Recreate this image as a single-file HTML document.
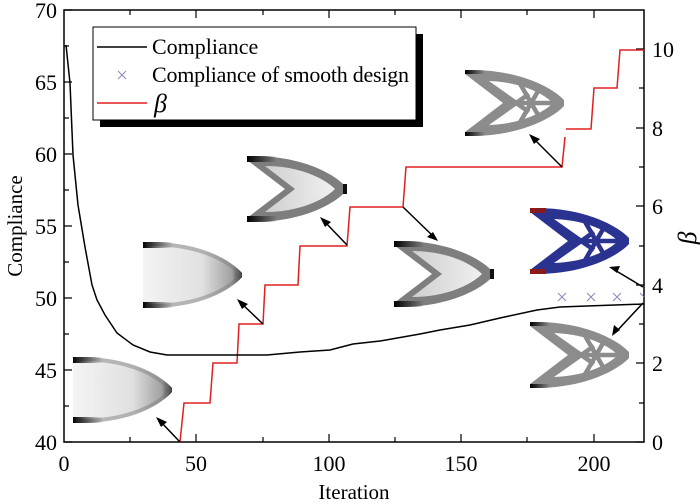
<!DOCTYPE html>
<html><head><meta charset="utf-8"><style>
html,body{margin:0;padding:0;background:#fff;}
svg{display:block;font-family:"Liberation Serif",serif;}
</style></head><body>
<svg width="700" height="503" viewBox="0 0 700 503" xmlns="http://www.w3.org/2000/svg">
<defs>
<linearGradient id="blur" x1="0" y1="0" x2="1" y2="0">
<stop offset="0" stop-color="#f4f4f4"/><stop offset="0.6" stop-color="#e0e0e0"/><stop offset="0.9" stop-color="#a0a0a0"/><stop offset="1" stop-color="#222"/>
</linearGradient>
<linearGradient id="vg" x1="0" y1="0" x2="1" y2="0">
<stop offset="0" stop-color="#cfcfcf"/><stop offset="1" stop-color="#f0f0f0"/>
</linearGradient>
<linearGradient id="dark" x1="0" y1="0" x2="1" y2="0">
<stop offset="0" stop-color="#000"/><stop offset="1" stop-color="#000" stop-opacity="0"/>
</linearGradient>
<g id="blob">
<path d="M0,0 L6,0 C55,0 88,18 99,31 L99,35 C88,48 55,66 6,66 L0,66 Z" fill="url(#blur)"/>
<path d="M6,2 C55,2 86,18 97,33 C86,48 55,64 6,64" fill="none" stroke="#777" stroke-width="4" stroke-opacity="0.45"/>
<rect x="0" y="0" width="30" height="6" fill="url(#dark)"/><rect x="0" y="60" width="30" height="6" fill="url(#dark)"/>
</g>
<g id="vee">
<path d="M0,0 L6,0 C55,0 88,18 99,31 L99,35 C88,48 55,66 6,66 L0,66 L0,62 L38,33 L0,4 Z" fill="#7e7e7e"/>
<path d="M18,10 C52,10 77,22 88,33 C77,44 52,56 18,56 L48,33 Z" fill="url(#vg)"/>
<rect x="0" y="0" width="30" height="6" fill="url(#dark)"/><rect x="0" y="60" width="30" height="6" fill="url(#dark)"/>
<rect x="96" y="28" width="4" height="10" fill="#111"/>
</g>
<g id="truss">
<path d="M0,0 L6,0 C55,0 88,18 99,30 L99,36 C88,48 55,66 6,66 L0,66 L0,62 L38,33 L0,4 Z" fill="currentColor"/>
<path d="M20,11 C52,11 77,22 88,33 C77,44 52,55 20,55 L50,33 Z" fill="#fff"/>
<g stroke="currentColor" stroke-width="4.5" fill="none">
<path d="M20,11 L64,42 M20,55 L64,24 M54,12 L76,50 M54,54 L76,16 M50,33 L88,33"/>
</g>
</g>
</defs>

<use href="#blob" x="73" y="357"/>
<use href="#blob" x="143" y="242"/>
<use href="#vee" x="247" y="156"/>
<use href="#vee" x="394" y="241"/>
<use href="#truss" x="465" y="70" style="color:#8c8c8c"/>
<rect x="465" y="70" width="20" height="4" fill="url(#dark)"/><rect x="465" y="132" width="20" height="4" fill="url(#dark)"/>
<use href="#truss" x="530" y="208" style="color:#2b3391"/>
<rect x="530" y="208" width="16" height="5" fill="#8b1a1a"/><rect x="530" y="269" width="16" height="5" fill="#8b1a1a"/>
<use href="#truss" x="530" y="322" style="color:#8c8c8c"/>
<rect x="530" y="322" width="20" height="4" fill="url(#dark)"/><rect x="530" y="384" width="20" height="4" fill="url(#dark)"/>

<g stroke="#000" stroke-width="1.5" fill="none">
<rect x="64" y="10" width="580" height="432"/>
</g>
<g stroke="#000" stroke-width="1.2">
<path d="M64,10h8M64,82h8M64,154h8M64,226h8M64,298h8M64,370h8M64,442h8"/>
<path d="M64,46h5M64,118h5M64,190h5M64,262h5M64,334h5M64,406h5"/>
<path d="M196,442v-8M329,442v-8M461,442v-8M594,442v-8M130,442v-5M263,442v-5M395,442v-5M527,442v-5"/>
<path d="M196,10v8M329,10v8M461,10v8M594,10v8M130,10v5M263,10v5M395,10v5M527,10v5"/>
<path d="M644,442h-8M644,363h-8M644,285h-8M644,206h-8M644,128h-8M644,49h-8"/>
<path d="M644,403h-5M644,324h-5M644,246h-5M644,167h-5M644,88h-5"/>
</g>
<g font-size="22" fill="#000">
<g text-anchor="end">
<text x="57" y="18">70</text><text x="57" y="90">65</text><text x="57" y="162">60</text><text x="57" y="234">55</text><text x="57" y="306">50</text><text x="57" y="378">45</text><text x="57" y="450">40</text>
</g>
<g text-anchor="middle">
<text x="64" y="471">0</text><text x="196" y="471">50</text><text x="329" y="471">100</text><text x="461" y="471">150</text><text x="594" y="471">200</text>
<text x="354" y="499" font-size="21">Iteration</text>
</g>
<g>
<text x="652" y="450">0</text><text x="652" y="371">2</text><text x="652" y="293">4</text><text x="652" y="214">6</text><text x="652" y="136">8</text><text x="652" y="57">10</text>
</g>
<text transform="translate(22,226) rotate(-90)" text-anchor="middle" font-size="21">Compliance</text>
<text transform="translate(696,238) rotate(-90)" text-anchor="middle" font-size="26" font-style="italic">β</text>
</g>

<polyline fill="none" stroke="#e02020" stroke-width="1.5" points="180,442 184,403 210,403 213,363 237,363 239,324 263,324 265,285 298,285 300,246 347,246 350,207 403,207 406,167 562,167 565,137"/>
<polyline fill="none" stroke="#e02020" stroke-width="1.5" points="566,129 591,129 594,88 617,88 620,50 644,50"/>

<path fill="none" stroke="#000" stroke-width="1.5" d="M66,45 L70,83 L73,155 L78,205 L85,247 L92,285 L97,300 L105,315 L117,333 L133,345 L150,352 L167,355 L267,355 L300,352 L330,350 L353,344 L380,341 L403,337 L420,334 L440,330 L470,325 L500,318 L537,310 L560,307 L587,306 L644,304"/>

<g stroke="#8888bb" stroke-width="1">
<path d="M558,293l8,8M566,293l-8,8M587,293l8,8M595,293l-8,8M613,293l8,8M621,293l-8,8M640,293l4,4"/>
</g>

<g stroke="#000" stroke-width="1.5">
<line x1="180" y1="442" x2="160" y2="421"/>
<line x1="263" y1="324" x2="241" y2="303"/>
<line x1="347" y1="245" x2="324" y2="221"/>
<line x1="403" y1="207" x2="434" y2="237"/>
<line x1="562" y1="167" x2="533" y2="138"/>
<line x1="643" y1="287" x2="613" y2="269"/>
<line x1="643" y1="303" x2="616" y2="332"/>
</g>
<g fill="#000">
<polygon points="156,417 167,422 161,427"/>
<polygon points="237,299 248,304 242,309"/>
<polygon points="320,217 331,222 325,227"/>
<polygon points="438,241 427,237 433,232"/>
<polygon points="529,134 540,139 534,144"/>
<polygon points="609,267 620,266 617,273"/>
<polygon points="612,336 614,325 620,330"/>
</g>

<rect x="100" y="34" width="323" height="93" fill="#000"/>
<rect x="93" y="27" width="323" height="93" fill="#fff" stroke="#000" stroke-width="1"/>
<g font-size="22" fill="#000">
<line x1="97" y1="47" x2="147" y2="47" stroke="#000" stroke-width="1.5"/>
<text x="152" y="54">Compliance</text>
<path d="M118,71l8,8M126,71l-8,8" stroke="#8888bb" stroke-width="1"/>
<text x="152" y="82" textLength="257">Compliance of smooth design</text>
<line x1="97" y1="103" x2="147" y2="103" stroke="#e02020" stroke-width="1.5"/>
<text x="154" y="112" font-size="26" font-style="italic">β</text>
</g>
</svg>
</body></html>
